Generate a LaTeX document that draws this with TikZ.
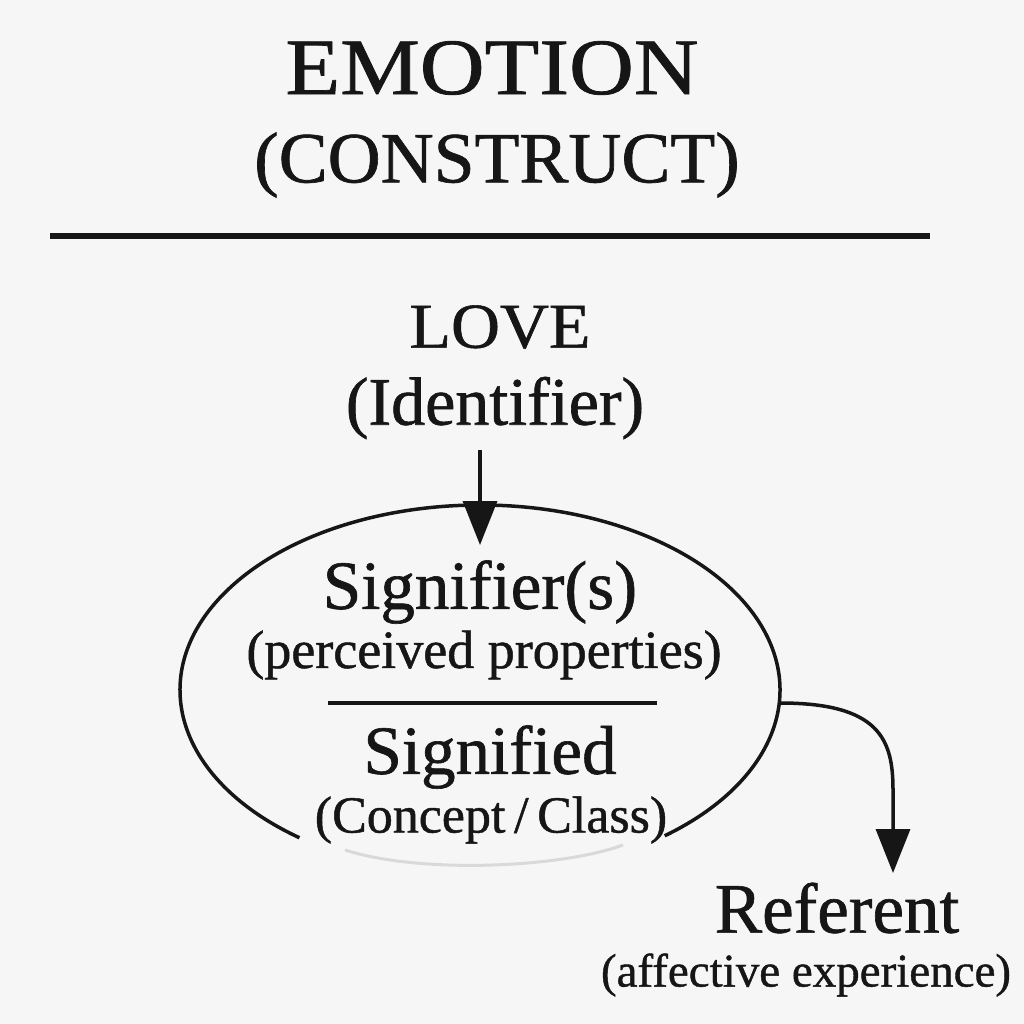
\documentclass[tikz,border=0pt]{standalone}
\usepackage{fontspec}
\setmainfont[FakeBold=0.9]{Liberation Serif}
\usetikzlibrary{arrows.meta,shapes.geometric}
\definecolor{bg}{RGB}{246,246,246}
\definecolor{ink}{RGB}{22,22,22}
\tikzset{
  lbl/.style={text=ink, inner sep=0pt, anchor=center},
  conn/.style={draw=ink, line width=3.5pt, -{Triangle[length=44pt,width=34pt]}},
  rule/.style={draw=ink, line width=5pt},
}
\newcommand{\fs}[1]{\fontsize{#1}{#1}\selectfont}
\begin{document}
\begin{tikzpicture}[x=1pt,y=-1pt]
\fill[bg] (0,0) rectangle (1024,1024);
\useasboundingbox (0,0) rectangle (1024,1024);
% title
\node[lbl] (emo) at (492,68) {\scalebox{1.12}[1]{\fs{80}EMOTION}};
\node[lbl] (cons) at (497,165) {\scalebox{1.02}[1]{\fs{72}(CONSTRUCT)}};
\coordinate (r1) at (50,236);
\coordinate (r2) at (930,236);
\draw[rule] (r1) -- (r2);
% identifier
\node[lbl] (love) at (500,327) {\scalebox{1.06}[1]{\fs{64}LOVE}};
\node[lbl] (ident) at (495,408) {\fs{68}(Identifier)};
% sign ellipse (open at bottom)
\node[ellipse, minimum width=600pt, minimum height=370pt, inner sep=0pt, draw=none] (sign) at (480,690) {};
\draw[draw=ink, line width=3.5pt] (sign.center) ++(127:300 and 185) arc[start angle=127, end angle=412, x radius=300, y radius=185];
\draw[draw=gray!30, line width=3pt] (345,850) .. controls (420,874) and (560,868) .. (623,845);
\node[lbl] (sfr) at (480,592) {\fs{69}Signifier(s)};
\node[lbl] (perc) at (484,655) {\fs{54}(perceived properties)};
\coordinate (d1) at (328,703);
\coordinate (d2) at (657,703);
\draw[draw=ink, line width=4pt] (d1) -- (d2);
\node[lbl] (sfd) at (490,757) {\fs{69}Signified};
\node[lbl] (conc) at (491,820) {\fs{52}(Concept{\,}/{\,}Class)};
% arrows
\coordinate (a1) at (480,450);
\coordinate (a1t) at (480,545);
\draw[conn] (a1) -- (a1t);
\coordinate (b1) at (780,703);
\coordinate (b2) at (893,873);
\draw[conn] (b1) .. controls (880,703) and (893,740) .. (893,790) -- (b2);
% referent
\node[lbl] (ref) at (837,908) {\fs{71}Referent};
\node[lbl] (aff) at (806,975) {\fs{47}(affective experience)};
\end{tikzpicture}
\end{document}
